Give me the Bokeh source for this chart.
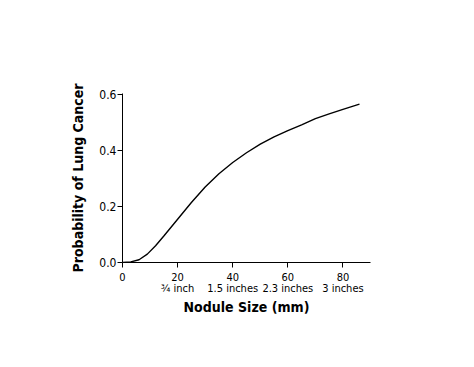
from bokeh.plotting import figure
from bokeh.models import Range1d, FixedTicker
from bokeh.embed import file_html
from bokeh.resources import INLINE

size_mm = [0, 3, 6, 9, 12, 15, 20, 25, 30, 35, 40, 45, 50, 55, 60, 65, 70, 75, 80, 86]
prob = [0.0, 0.002, 0.01, 0.03, 0.06, 0.095, 0.155, 0.215, 0.27, 0.318, 0.358, 0.393,
        0.424, 0.45, 0.472, 0.493, 0.515, 0.532, 0.548, 0.567]

x_ticks = [0, 20, 40, 60, 80]
x_tick_labels = ["0", "20\n¾ inch", "40\n1.5 inches", "60\n2.3 inches", "80\n3 inches"]
y_ticks = [0.0, 0.2, 0.4, 0.6]
y_tick_labels = ["0.0", "0.2", "0.4", "0.6"]

p = figure(width=466, height=359, output_backend="svg", toolbar_location=None,
           x_range=Range1d(0, 90), y_range=Range1d(0, 0.605),
           min_border_left=122, min_border_right=96, min_border_top=93, min_border_bottom=97)
p.xgrid.visible = False
p.ygrid.visible = False
p.outline_line_color = None

p.line(size_mm, prob, line_color="black", line_width=1.4)

font = "DejaVu Sans Condensed"
p.xaxis.ticker = FixedTicker(ticks=x_ticks)
p.xaxis.major_label_overrides = {t: l for t, l in zip(x_ticks, x_tick_labels)}
p.yaxis.ticker = FixedTicker(ticks=y_ticks)
p.yaxis.major_label_overrides = {t: l for t, l in zip(y_ticks, y_tick_labels)}

for ax in (p.xaxis, p.yaxis):
    ax.minor_tick_line_color = None
    ax.major_tick_in = 0
    ax.major_tick_out = 5
    ax.axis_line_color = "black"
    ax.major_tick_line_color = "black"
    ax.major_label_text_font = font
    ax.major_label_text_font_size = "11px"
    ax.major_label_text_color = "black"
    ax.axis_label_text_font = font
    ax.axis_label_text_font_style = "bold"
    ax.axis_label_text_font_size = "14px"
    ax.axis_label_text_color = "black"

p.yaxis.major_label_text_font_size = "12px"
p.xaxis.major_label_text_line_height = 0.85
p.xaxis.major_label_standoff = 3
p.yaxis.major_label_standoff = 1
p.xaxis.axis_label = "Nodule Size (mm)"
p.yaxis.axis_label = "Probability of Lung Cancer"
p.xaxis.axis_label_standoff = 1
p.yaxis.axis_label_standoff = 10

open("out.html", "w").write(file_html(p, INLINE))
